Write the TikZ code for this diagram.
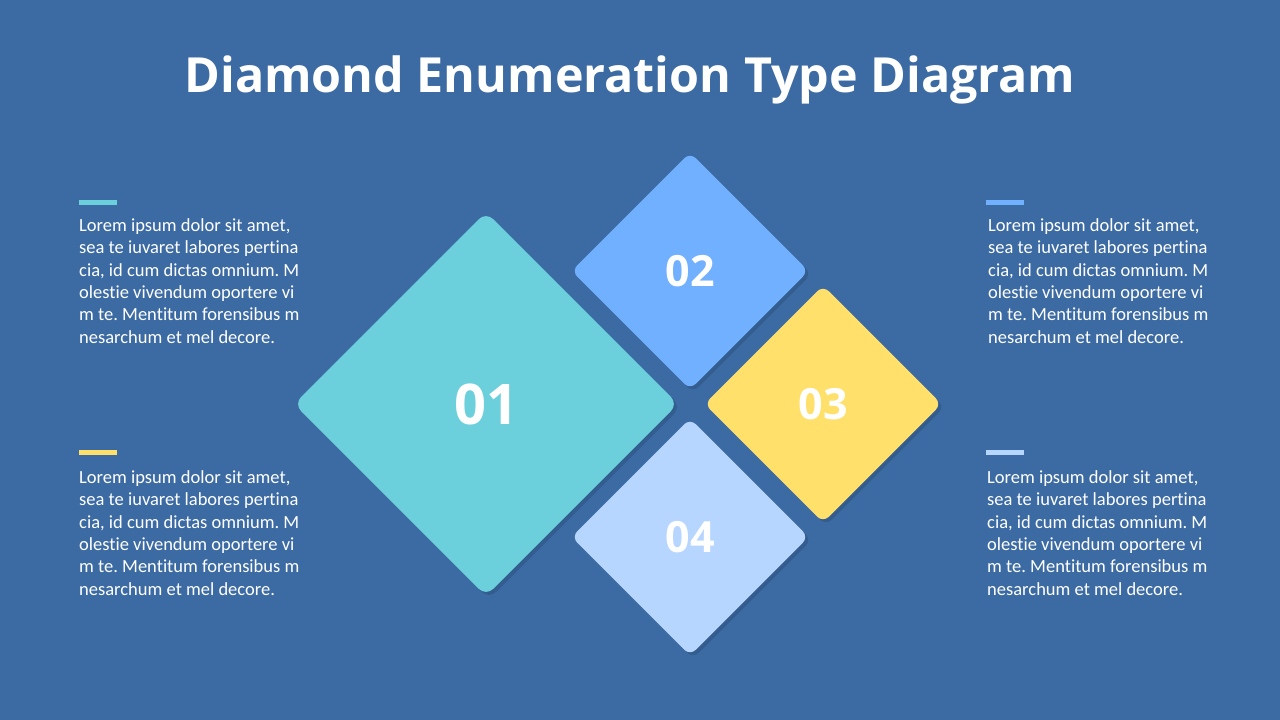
\documentclass[tikz,border=0pt]{standalone}
\usepackage{fontspec}
\setmainfont[Ligatures={NoCommon}]{Carlito}
\newfontfamily\titlefont{Open Sans}
\usetikzlibrary{calc}
\frenchspacing
\definecolor{bgc}{HTML}{3C6BA3}
\definecolor{shd}{HTML}{345D8F}
\definecolor{cyanc}{HTML}{6BCFDC}
\definecolor{bluec}{HTML}{70B0FF}
\definecolor{yelc}{HTML}{FFE06B}
\definecolor{lbluec}{HTML}{B6D6FF}
\tikzset{
  body/.style={anchor=north west, inner sep=0pt, align=left, text=white,
    font=\fontsize{18.5}{22.3}\selectfont},
  numtxt/.style={text=white, inner sep=0pt, font=\titlefont\bfseries\fontsize{#1}{#1}\selectfont},
  bar/.style={fill=#1, draw=none},
}
\newcommand{\diam}[4]{% center, half-diagonal, color, radius
  \fill[shd, rounded corners=#4] ($(#1)+(3,3)+(0,-#2)$) -- ($(#1)+(3,3)+(#2,0)$) -- ($(#1)+(3,3)+(0,#2)$) -- ($(#1)+(3,3)+(-#2,0)$) -- cycle;
  \fill[#3, rounded corners=#4] ($(#1)+(0,-#2)$) -- ($(#1)+(#2,0)$) -- ($(#1)+(0,#2)$) -- ($(#1)+(-#2,0)$) -- cycle;
}
\begin{document}
\begin{tikzpicture}[x=1pt,y=-1pt]
\fill[bgc] (0,0) rectangle (1280,720);
\useasboundingbox (0,0) rectangle (1280,720);
\node[text=white, inner sep=0pt, font=\titlefont\bfseries\fontsize{48.4}{48.4}\selectfont] (title) at (630,80) {Diamond Enumeration Type Diagram};

\coordinate (c1) at (486,404);
\coordinate (c2) at (690,271);
\coordinate (c3) at (823,404);
\coordinate (c4) at (690,537);
\diam{c1}{192}{cyanc}{10pt}
\diam{c2}{118.5}{bluec}{8pt}
\diam{c3}{118.5}{yelc}{8pt}
\diam{c4}{118.5}{lbluec}{8pt}
\node[numtxt=56] (n1) at (c1) {01};
\node[numtxt=43] (n2) at (c2) {02};
\node[numtxt=43] (n3) at (c3) {03};
\node[numtxt=43] (n4) at (c4) {04};

\fill[bar=cyanc] (79,200) rectangle (117,205);
\fill[bar=yelc] (79,450) rectangle (117,455);
\fill[bar=bluec] (986,200) rectangle (1024,205);
\fill[bar=lbluec] (986,450) rectangle (1024,455);

\node[body] (t1) at (79,218.5) {Lorem ipsum dolor sit amet,\\sea te iuvaret labores pertina\\cia, id cum dictas omnium. M\\olestie vivendum oportere vi\\m te. Mentitum forensibus m\\nesarchum et mel decore.};
\node[body] (t4) at (79,470.5) {Lorem ipsum dolor sit amet,\\sea te iuvaret labores pertina\\cia, id cum dictas omnium. M\\olestie vivendum oportere vi\\m te. Mentitum forensibus m\\nesarchum et mel decore.};
\node[body] (t2) at (988,218.5) {Lorem ipsum dolor sit amet,\\sea te iuvaret labores pertina\\cia, id cum dictas omnium. M\\olestie vivendum oportere vi\\m te. Mentitum forensibus m\\nesarchum et mel decore.};
\node[body] (t3) at (987,470.5) {Lorem ipsum dolor sit amet,\\sea te iuvaret labores pertina\\cia, id cum dictas omnium. M\\olestie vivendum oportere vi\\m te. Mentitum forensibus m\\nesarchum et mel decore.};
\end{tikzpicture}
\end{document}
